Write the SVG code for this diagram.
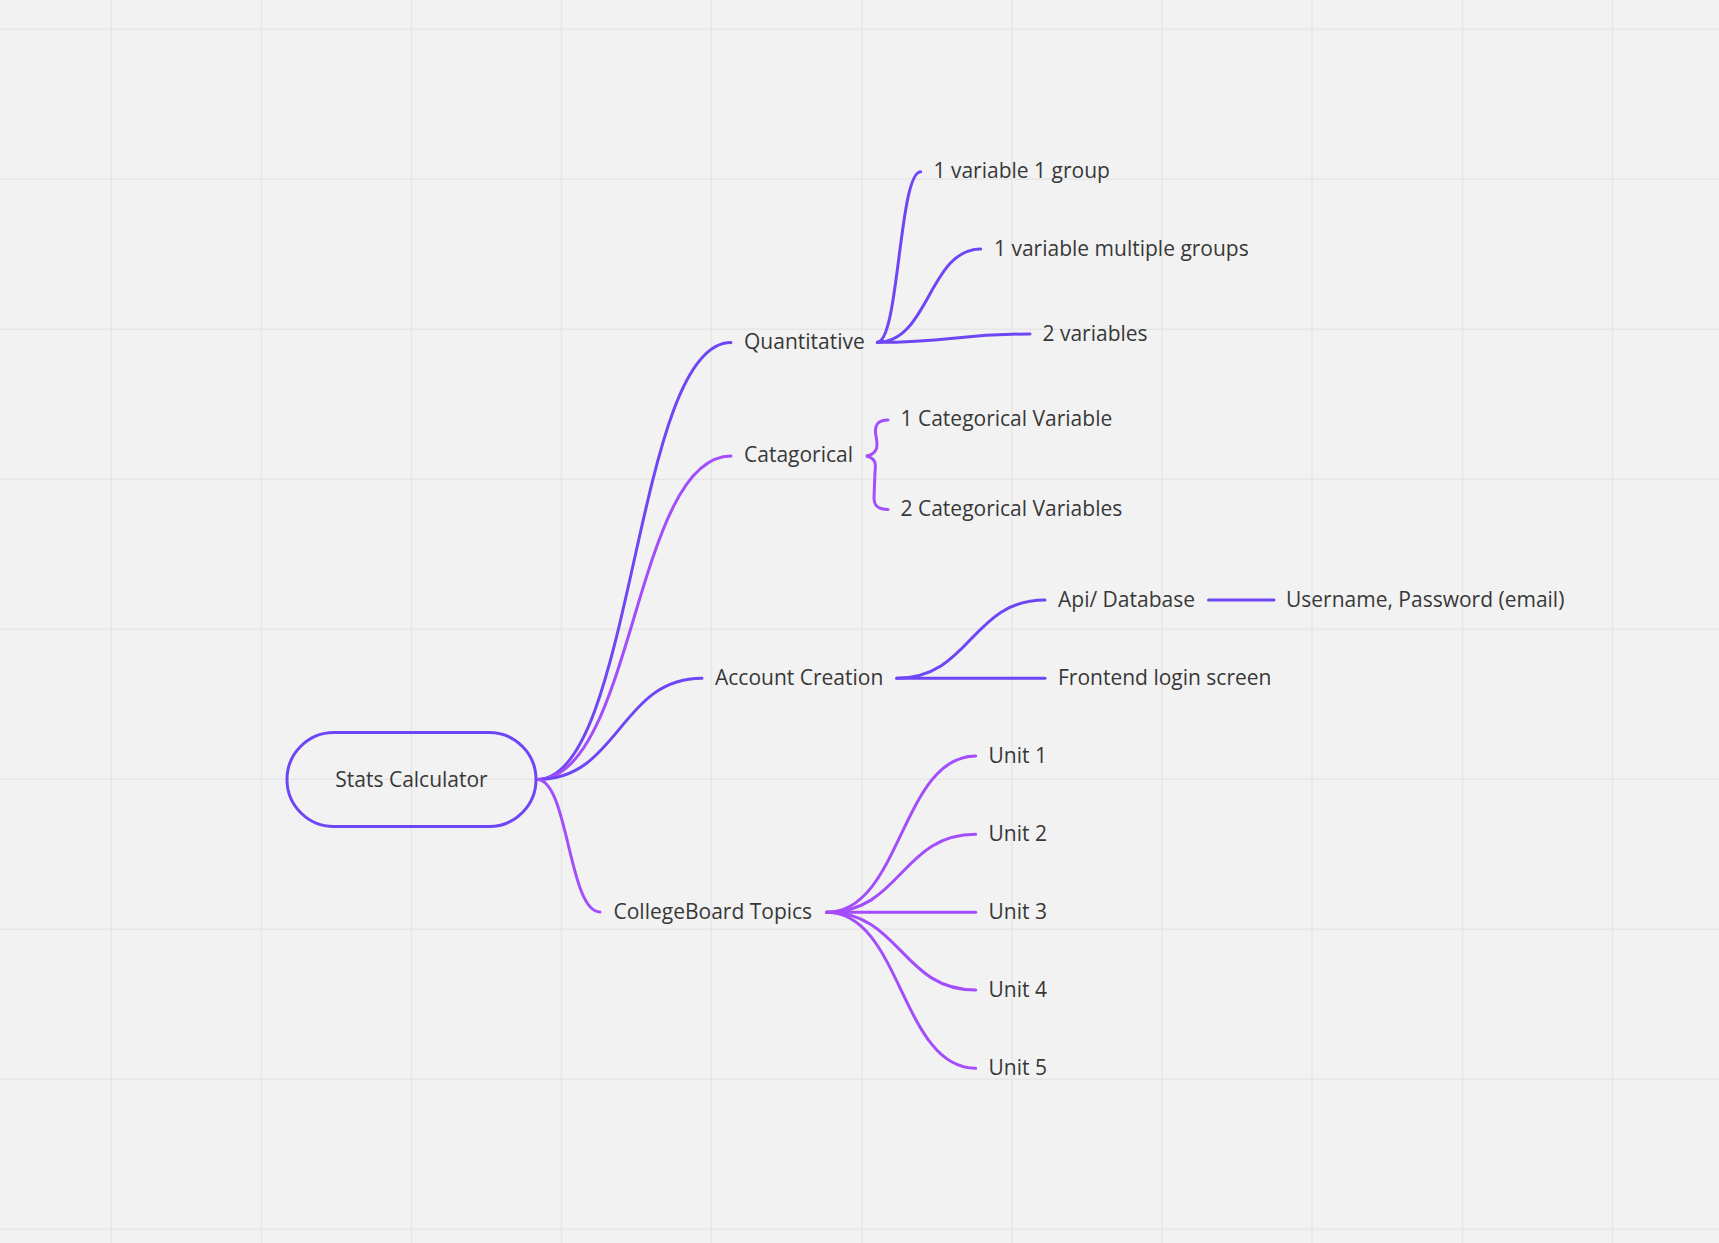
<svg xmlns="http://www.w3.org/2000/svg" width="1719" height="1243" viewBox="0 0 1719 1243">
<style>
.grid line{stroke:#e6e6e6;stroke-width:1.5}
.c{fill:none;stroke-width:3;stroke-linecap:round}
.b{stroke:#6f46f6}
.p{stroke:#a44dfb}
text{font-family:"Open Sans","Noto Sans","Liberation Sans",sans-serif;font-size:21px;fill:#383838}
.root{fill:none;stroke:#6f46f6;stroke-width:3}
</style>
<rect width="1719" height="1243" fill="#f2f2f2"/>
<g class="grid">
<line x1="111.5" y1="0" x2="111.5" y2="1243"/>
<line x1="261.5" y1="0" x2="261.5" y2="1243"/>
<line x1="411.5" y1="0" x2="411.5" y2="1243"/>
<line x1="561.5" y1="0" x2="561.5" y2="1243"/>
<line x1="711.5" y1="0" x2="711.5" y2="1243"/>
<line x1="862" y1="0" x2="862" y2="1243"/>
<line x1="1012" y1="0" x2="1012" y2="1243"/>
<line x1="1162" y1="0" x2="1162" y2="1243"/>
<line x1="1312" y1="0" x2="1312" y2="1243"/>
<line x1="1462.5" y1="0" x2="1462.5" y2="1243"/>
<line x1="1612.5" y1="0" x2="1612.5" y2="1243"/>
<line x1="0" y1="29.3" x2="1719" y2="29.3"/>
<line x1="0" y1="179.3" x2="1719" y2="179.3"/>
<line x1="0" y1="329.3" x2="1719" y2="329.3"/>
<line x1="0" y1="479.3" x2="1719" y2="479.3"/>
<line x1="0" y1="629.3" x2="1719" y2="629.3"/>
<line x1="0" y1="779.3" x2="1719" y2="779.3"/>
<line x1="0" y1="929.3" x2="1719" y2="929.3"/>
<line x1="0" y1="1079.3" x2="1719" y2="1079.3"/>
<line x1="0" y1="1229.3" x2="1719" y2="1229.3"/>
</g>
<g id="connectors">
<path class="c b" d="M537 779.5 C634 779.5 634 342.5 731 342.5"/>
<path class="c p" d="M537 779.5 C634 779.5 634 456 731 456"/>
<path class="c b" d="M537 779.5 C619.5 779.5 619.5 678.3 702 678.3"/>
<path class="c p" d="M537 779.5 C568.5 779.5 568.5 912 600 912"/>
<path class="c b" d="M877.3 342.3 C899 342.3 899 171.7 920.7 171.7"/>
<path class="c b" d="M877.3 342.3 C929 342.3 929 249 980.7 249"/>
<path class="c b" d="M877.3 342.3 C953.6 342.3 953.6 334 1030 334"/>
<path class="c p" d="M888 420 C877 420 874 426 876 436 C878 446 878 454 866 456 C876 458 876 464 875 472 L874 498 C874 506 878 509.5 888 509.5"/>
<path class="c b" d="M896.7 678.3 C971 678.3 971 600 1045 600"/>
<path class="c b" d="M896.7 678.3 L1045 678.3"/>
<path class="c b" d="M1208.5 600 L1274 600"/>
<path class="c p" d="M826.7 912.3 C901.2 912.3 901.2 756 975.7 756"/>
<path class="c p" d="M826.7 912.3 C901.2 912.3 901.2 834.3 975.7 834.3"/>
<path class="c p" d="M826.7 912.3 L975.7 912.3"/>
<path class="c p" d="M826.7 912.3 C901.2 912.3 901.2 990 975.7 990"/>
<path class="c p" d="M826.7 912.3 C901.2 912.3 901.2 1068.3 975.7 1068.3"/>
</g>
<g id="root">
<rect class="root" x="287" y="732.5" width="249" height="94" rx="47"/>
<text x="411.5" y="786.5" text-anchor="middle">Stats Calculator</text>
</g>
<g id="quantitative"><text x="744" y="348.5">Quantitative</text></g>
<g id="catagorical"><text x="744" y="462">Catagorical</text></g>
<g id="account-creation"><text x="715" y="684.5">Account Creation</text></g>
<g id="collegeboard-topics"><text x="613.5" y="918.5">CollegeBoard Topics</text></g>
<g id="q1"><text x="933.5" y="178">1 variable 1 group</text></g>
<g id="q2"><text x="994" y="255.5">1 variable multiple groups</text></g>
<g id="q3"><text x="1042.5" y="340.5">2 variables</text></g>
<g id="c1"><text x="900.5" y="426">1 Categorical Variable</text></g>
<g id="c2"><text x="900.5" y="515.5">2 Categorical Variables</text></g>
<g id="api"><text x="1058" y="606.5">Api/ Database</text></g>
<g id="username"><text x="1286" y="606.5">Username, Password (email)</text></g>
<g id="frontend"><text x="1058" y="684.5">Frontend login screen</text></g>
<g id="unit1"><text x="988.5" y="762.5">Unit 1</text></g>
<g id="unit2"><text x="988.5" y="840.8">Unit 2</text></g>
<g id="unit3"><text x="988.5" y="918.8">Unit 3</text></g>
<g id="unit4"><text x="988.5" y="996.5">Unit 4</text></g>
<g id="unit5"><text x="988.5" y="1074.8">Unit 5</text></g>
</svg>
